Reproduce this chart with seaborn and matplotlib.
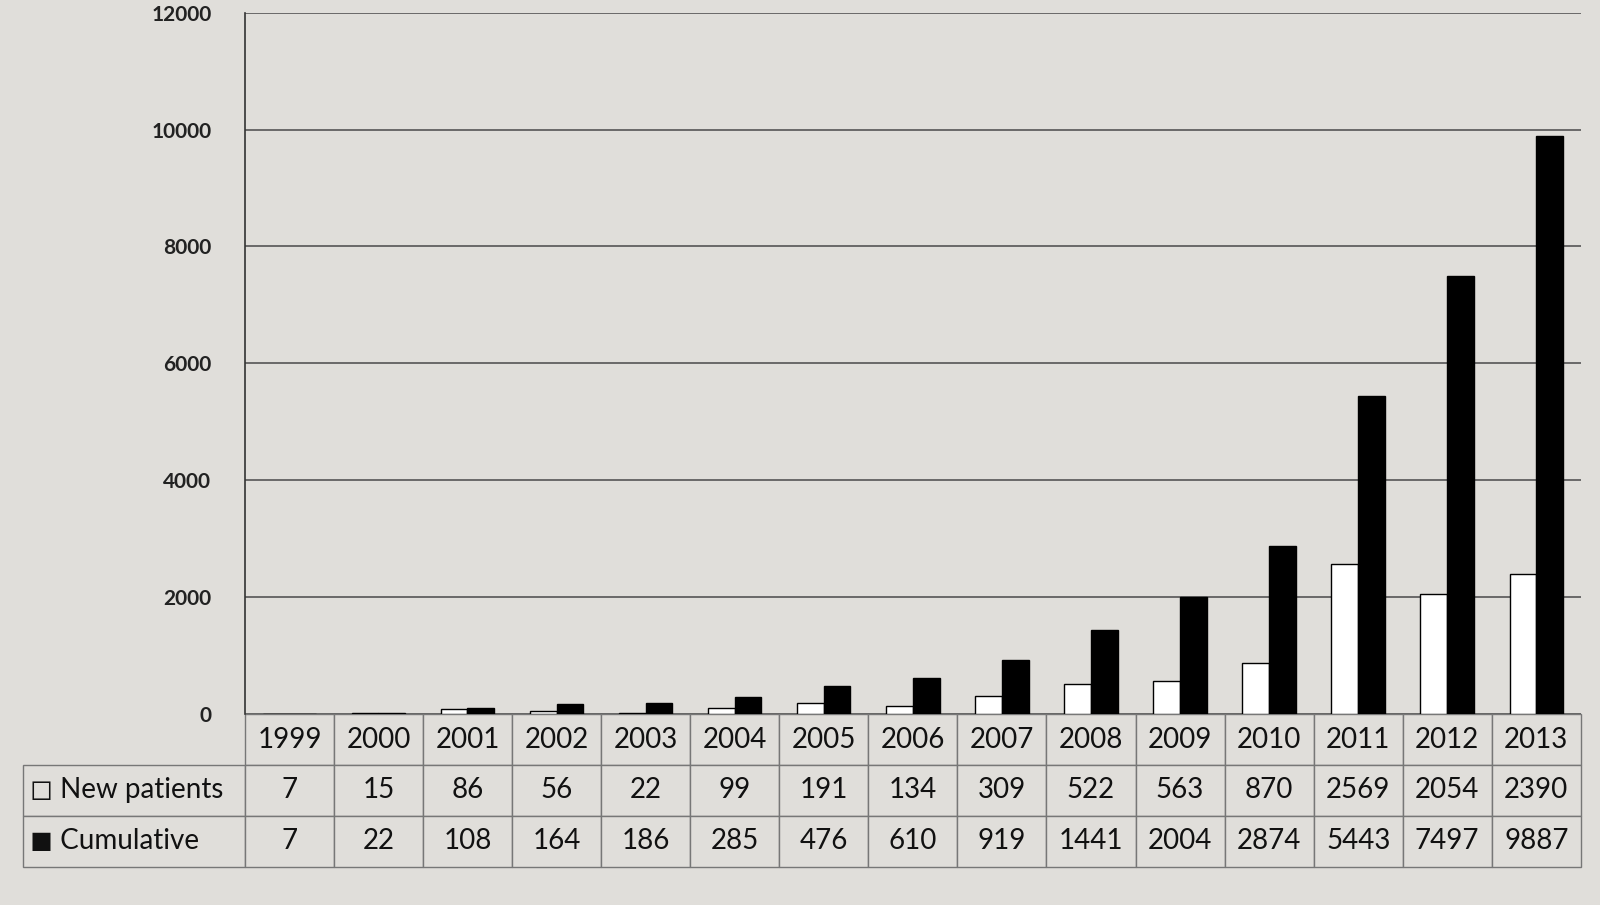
import matplotlib
matplotlib.use('Agg')
import matplotlib.pyplot as plt
import seaborn as sns
import pandas as pd

years = ['1999', '2000', '2001', '2002', '2003', '2004', '2005', '2006',
         '2007', '2008', '2009', '2010', '2011', '2012', '2013']
new_patients = [7, 15, 86, 56, 22, 99, 191, 134, 309, 522, 563, 870, 2569, 2054, 2390]
cumulative = [7, 22, 108, 164, 186, 285, 476, 610, 919, 1441, 2004, 2874, 5443, 7497, 9887]
series_names = ['New patients', 'Cumulative']

df = pd.DataFrame({
    'year': years * 2,
    'series': [series_names[0]] * len(years) + [series_names[1]] * len(years),
    'value': new_patients + cumulative,
})

bg = '#e0deda'
sns.set_theme(style='white')
plt.rcParams['font.family'] = ['Lato', 'DejaVu Sans']
plt.rcParams['figure.facecolor'] = bg
plt.rcParams['axes.facecolor'] = bg

fig = plt.figure(figsize=(16, 9.05), dpi=100)
ax = fig.add_axes([0.153, 0.211, 0.835, 0.775])

sns.barplot(data=df, x='year', y='value', hue='series',
            palette={'New patients': 'white', 'Cumulative': 'black'},
            edgecolor='black', linewidth=1, width=0.6, ax=ax, legend=False)

ax.set_ylim(0, 12000)
ax.set_yticks(range(0, 12001, 2000))
ax.yaxis.grid(True, color='#555555', lw=1.2)
ax.set_axisbelow(True)
ax.tick_params(axis='y', labelsize=15, colors='#222222', length=0, pad=24)
for lbl in ax.get_yticklabels():
    lbl.set_fontweight('bold')
ax.set_xticks([])
ax.set_xlabel('')
ax.set_ylabel('')
for s in ['top', 'right', 'bottom']:
    ax.spines[s].set_visible(False)
ax.spines['left'].set_color('#333333')
ax.spines['left'].set_linewidth(1.2)

# data table below the bars
cell_text = [[''] + years,
             ['\u25fb New patients'] + [str(v) for v in new_patients],
             ['\u25fc Cumulative'] + [str(v) for v in cumulative]]
col_w = [222] + [1336 / 15] * 15
tbl = ax.table(cellText=cell_text, cellLoc='center', colWidths=col_w,
               bbox=[-0.166, -0.218, 1.166, 0.218])
tbl.auto_set_font_size(False)
tbl.set_fontsize(20)
for (r, c), cell in tbl.get_celld().items():
    cell.set_facecolor(bg)
    cell.set_edgecolor('#777777')
    cell.set_linewidth(1)
    cell.get_text().set_color('#111111')
    if c == 0:
        cell.get_text().set_ha('left')
        cell._loc = 'left'
        cell.PAD = 0.03
        if r == 0:
            cell.visible_edges = ''

fig.savefig('out.png', dpi=100, facecolor=bg)
